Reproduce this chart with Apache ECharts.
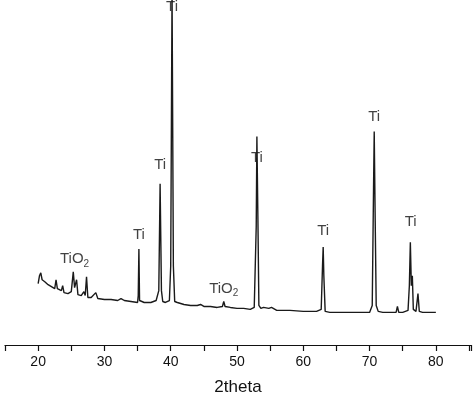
<!DOCTYPE html>
<html><head><meta charset="utf-8">
<script src="https://cdn.jsdelivr.net/npm/echarts@6/dist/echarts.min.js"></script>
<style>html,body{margin:0;padding:0;background:#fff}#c{width:474px;height:401px}</style>
</head><body><div id="c"></div>
<script>
const twoTheta = [20.0,20.2,20.4,20.6,21,21.5,22,22.5,22.7,22.9,23.5,23.7,23.9,24.5,25,25.3,25.5,25.8,26.0,26.5,26.9,27.1,27.3,27.5,28,28.7,29,30,31,32,32.5,33,34,35,35.1,35.2,35.3,35.5,36,37,37.8,38.2,38.4,38.6,38.8,39.2,39.8,40.0,40.2,40.4,40.6,41,41.5,42,43,44,44.5,45,46,47,47.8,48.0,48.2,49,50,51,52,52.6,52.9,53.0,53.15,53.3,53.6,54,54.3,54.8,55.2,56,58,60,62,62.7,62.9,63.0,63.1,63.3,64,66,68,70,70.4,70.6,70.7,70.85,71.0,71.3,72,74,74.2,74.4,75,75.8,76.0,76.15,76.3,76.45,76.6,77,77.3,77.5,78,80];
const intensity = [62,70,73,66,64,61,59,57,66,57,55,60,53,52,54,74,58,66,51,50,54,50,69,48,48,53,47,46,46,45,47,45,44,43,50,97,45,43,43,43,45,55,163,55,44,43,45,80,360,80,44,43,42,41,40,40,41,39,39,38,39,44,39,38,37,37,36,38,120,211,130,40,37,38,40,37,38,35,35,34,34,36,80,99,70,34,33,33,33,33,40,160,216,125,40,34,33,33,39,33,33,35,60,104,60,70,36,34,52,34,33,33];
const labelX = [25.5,35.2,38.4,40.2,48.0,53.0,63.0,70.7,76.2];
const labelY = [87,111,182,342,57,189,115,231,125];
const labelText = ['TiO2','Ti','Ti','Ti','TiO2','Ti','Ti','Ti','Ti'];
const xTicks = [20,30,40,50,60,70,80];

const chart = echarts.init(document.getElementById('c'));
chart.setOption({
  animation:false,
  grid:{left:5,right:0,top:0,bottom:52},
  xAxis:{type:'value',min:15,max:85.3,interval:5,
    name:'2theta',nameLocation:'middle',nameGap:34,
    nameTextStyle:{fontSize:17,color:'#111',fontFamily:'Liberation Sans'},
    axisLine:{lineStyle:{color:'#111',width:1.2}},
    axisTick:{length:6,lineStyle:{color:'#111',width:1.2}},
    axisLabel:{fontSize:14,color:'#111',margin:10,fontFamily:'Liberation Sans',
      formatter:v=>xTicks.includes(v)?String(v):''},
    splitLine:{show:false}},
  yAxis:{type:'value',min:0,max:349,show:false},
  series:[
    {type:'line',smooth:false,data:twoTheta.map((x,i)=>[x,intensity[i]]),showSymbol:false,
     lineStyle:{color:'#1a1a1a',width:1.4},silent:true},
    {type:'scatter',symbolSize:0,data:labelX.map((x,i)=>[x,labelY[i],labelText[i]]),
     label:{show:true,position:'inside',fontFamily:'Liberation Sans',fontSize:15,color:'#111',
       formatter:p=>p.value[2]==='TiO2'?'{a|TiO}{s|2}':p.value[2],
       rich:{a:{fontSize:15,color:'#111',fontFamily:'Liberation Sans'},
             s:{fontSize:10,color:'#111',fontFamily:'Liberation Sans',padding:[10,0,0,0]}}}}
  ]
});
</script></body></html>
